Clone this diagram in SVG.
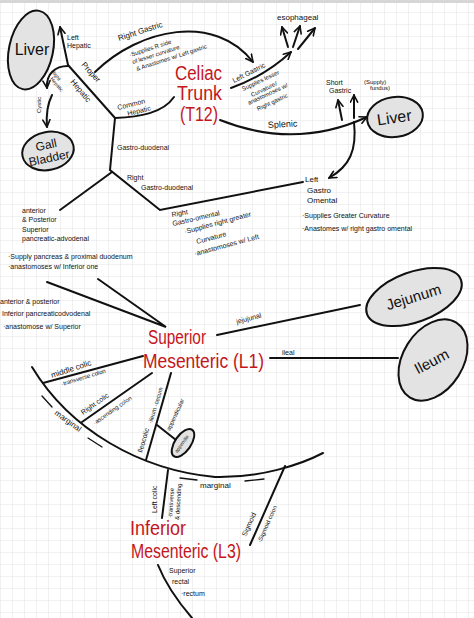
<svg xmlns="http://www.w3.org/2000/svg" width="474" height="618" viewBox="0 0 474 618">
<defs>
<pattern id="grid" width="12" height="12" patternUnits="userSpaceOnUse">
<path d="M12,0 L0,0 0,12" fill="none" stroke="#e4e4e4" stroke-width="1"/>
</pattern>
<marker id="ah" viewBox="0 0 10 10" refX="9" refY="5" markerWidth="9" markerHeight="9" markerUnits="userSpaceOnUse" orient="auto">
<path d="M1,1 L9,5 L1,9" fill="none" stroke="#111" stroke-width="1.8" stroke-linecap="round" stroke-linejoin="round"/>
</marker>
<style>
.ln{stroke:#111;stroke-width:2;fill:none;stroke-linecap:round}
.thin{stroke:#111;stroke-width:1.3;fill:none;stroke-linecap:round}
.org{fill:#e3e3e3;stroke:#111;stroke-width:2}
.t{font-family:"Liberation Sans",Arial,sans-serif;fill:#111}
.s6{font-size:6px}
.s7{font-size:7px}
.s8{font-size:8px}
.s9{font-size:9px}
.big{font-size:15px;text-anchor:middle}
.red{font-family:"Liberation Sans",Arial,sans-serif;fill:#c4161c;font-size:20px}
</style>
</defs>
<rect width="474" height="618" fill="#fff"/>
<rect width="474" height="618" fill="url(#grid)"/>
<rect width="474" height="3" fill="#d6d6d6"/>

<g id="connectors">
<path class="ln" d="M68,65 L60,27" marker-end="url(#ah)"/>
<path class="ln" d="M68,65 L115,118"/>
<path class="ln" d="M68,66 C55,66 46,74 47,88" marker-end="url(#ah)"/>
<path class="ln" d="M52,95 C47,105 46,115 47,127" marker-end="url(#ah)"/>
<path class="ln" d="M95,72 C140,28 215,13 253,62" marker-end="url(#ah)"/>
<path class="ln" d="M115,118 C140,117 163,113 174,97"/>
<path class="ln" d="M231,88 Q265,76 291,52" marker-end="url(#ah)"/>
<path class="ln" d="M288,47 L282,27" marker-end="url(#ah)"/>
<path class="ln" d="M293,47 L300,26" marker-end="url(#ah)"/>
<path class="ln" d="M298,49 L315,28" marker-end="url(#ah)"/>
<path class="ln" d="M220,120 Q295,150 367,117" marker-end="url(#ah)"/>
<path class="ln" d="M342,120 L338,100" marker-end="url(#ah)"/>
<path class="ln" d="M354,118 L354,95" marker-end="url(#ah)"/>
<path class="ln" d="M354,122 C357,150 350,166 329,178" marker-end="url(#ah)"/>
<path class="ln" d="M115,118 L110,170 L160,210 L303,182"/>
<path class="ln" d="M112,172 L60,210"/>
<path class="ln" d="M47,282 L166,327 L98,279"/>
<path class="ln" d="M217,335 L360,305"/>
<path class="ln" d="M270,358 L398,358"/>
<path class="ln" d="M43,383 L143,356"/>
<path class="ln" d="M32,367 C70,430 140,470 215,477 C260,478 300,465 323,453"/>
<path class="ln" d="M82,422 L152,373"/>
<path class="ln" d="M146,460 L171,373"/>
<path class="ln" d="M157,425 L176,440"/>
<path class="ln" d="M168,470 L162,518"/>
<path class="ln" d="M285,466 L250,545"/>
<path class="ln" d="M158,565 Q168,590 192,618"/>
<path class="thin" d="M42,396 L52,407 M88,438 L102,447 M180,478 L197,480 M245,481 L264,479"/>
</g>

<g id="liver-left">
<ellipse class="org" cx="31" cy="50" rx="22" ry="40" transform="rotate(12 31 50)"/>
<text class="t big" x="32" y="55" style="font-size:16px">Liver</text>
</g>
<g id="gall-bladder">
<ellipse class="org" cx="48" cy="151" rx="26" ry="19" transform="rotate(-12 48 151)"/>
<text class="t big" x="47" y="149" style="font-size:12px" transform="rotate(-12 47 149)">Gall</text>
<text class="t big" x="50" y="162" style="font-size:12px" transform="rotate(-12 50 162)">Bladder</text>
</g>
<g id="liver-right">
<ellipse class="org" cx="395" cy="117" rx="28" ry="20" transform="rotate(-8 395 117)"/>
<text class="t big" x="395" y="123" style="font-size:16px" transform="rotate(-8 395 123)">Liver</text>
</g>
<g id="jejunum">
<ellipse class="org" cx="414" cy="297" rx="50" ry="25" transform="rotate(-20 414 297)"/>
<text class="t big" x="415" y="302" style="font-size:15px" transform="rotate(-17 415 302)">Jejunum</text>
</g>
<g id="ileum">
<ellipse class="org" cx="433" cy="360" rx="30" ry="44" transform="rotate(32 433 360)"/>
<text class="t big" x="434" y="366" style="font-size:15px" transform="rotate(-28 434 366)">Ileum</text>
</g>
<g id="appendix">
<ellipse class="org" cx="183" cy="443" rx="16" ry="8" transform="rotate(-55 183 443)"/>
<text class="t" x="183" y="445" style="font-size:5px;text-anchor:middle" transform="rotate(-55 183 445)">appendix</text>
</g>

<g id="celiac-trunk">
<text class="red" x="175" y="80" textLength="47" lengthAdjust="spacingAndGlyphs">Celiac</text>
<text class="red" x="177" y="100" textLength="45" lengthAdjust="spacingAndGlyphs">Trunk</text>
<text class="red" x="180" y="121" textLength="38" lengthAdjust="spacingAndGlyphs">(T12)</text>
</g>
<g id="superior-mesenteric">
<text class="red" x="148" y="344" textLength="58" lengthAdjust="spacingAndGlyphs">Superior</text>
<text class="red" x="143" y="368" textLength="121" lengthAdjust="spacingAndGlyphs">Mesenteric (L1)</text>
</g>
<g id="inferior-mesenteric">
<text class="red" x="130" y="535" textLength="56" lengthAdjust="spacingAndGlyphs">Inferior</text>
<text class="red" x="131" y="558" textLength="110" lengthAdjust="spacingAndGlyphs">Mesenteric (L3)</text>
</g>

<g id="labels-hepatic">
<text class="t s7" x="67" y="40">Left</text>
<text class="t s7" x="67" y="48">Hepatic</text>
<text class="t s8" x="81" y="65" transform="rotate(48 81 65)">Proper</text>
<text class="t s8" x="70" y="82" transform="rotate(50 70 82)">Hepatic</text>
<text class="t" x="51" y="72" style="font-size:5px" transform="rotate(50 51 72)">Right</text>
<text class="t" x="50" y="79" style="font-size:5px" transform="rotate(50 50 79)">Hepatic</text>
<text class="t s6" x="41" y="113" transform="rotate(-90 41 113)">Cystic</text>
<text class="t s7" x="118" y="110" transform="rotate(-14 118 110)">Common</text>
<text class="t s7" x="128" y="116" transform="rotate(-14 128 116)">Hepatic</text>
</g>
<g id="labels-gastric">
<text class="t s8" x="119" y="41" transform="rotate(-18 119 41)">Right Gastric</text>
<text class="t s6" x="130" y="57" transform="rotate(-18 130 57)">·Supplies R side</text>
<text class="t s6" x="133" y="64" transform="rotate(-18 133 64)">of lesser curvature</text>
<text class="t s6" x="137" y="71" transform="rotate(-18 137 71)">&amp; Anastomes w/ Left gastric</text>
<text class="t s7" x="234" y="83" transform="rotate(-27 234 83)">Left Gastric</text>
<text class="t s6" x="243" y="91" transform="rotate(-25 243 91)">Supplies lesser</text>
<text class="t s6" x="252" y="97" transform="rotate(-25 252 97)">Curvature/</text>
<text class="t s6" x="249" y="105" transform="rotate(-25 249 105)">anastomoses w/</text>
<text class="t s6" x="258" y="111" transform="rotate(-25 258 111)">Right gastric</text>
<text class="t s8" x="277" y="20">esophageal</text>
<text class="t s9" x="268" y="128" transform="rotate(-3 268 128)">Splenic</text>
<text class="t s7" x="326" y="85">Short</text>
<text class="t s7" x="329" y="93">Gastric</text>
<text class="t s6" x="364" y="84">(Supply)</text>
<text class="t s6" x="370" y="90">fundus)</text>
<text class="t s8" x="305" y="182">Left</text>
<text class="t s8" x="307" y="193">Gastro</text>
<text class="t s8" x="307" y="203">Omental</text>
<text class="t s7" x="302" y="218">·Supplies Greater Curvature</text>
<text class="t s7" x="302" y="231">·Anastomes w/ right gastro omental</text>
</g>
<g id="labels-duodenal">
<text class="t s7" x="117" y="150">Gastro-duodenal</text>
<text class="t s7" x="127" y="180">Right</text>
<text class="t s7" x="141" y="190">Gastro-duodenal</text>
<text class="t s7" x="172" y="217" transform="rotate(-10 172 217)">Right</text>
<text class="t s7" x="173" y="226" transform="rotate(-13 173 226)">Gastro-omental</text>
<text class="t s7" x="185" y="234" transform="rotate(-15 185 234)">·Supplies right greater</text>
<text class="t s7" x="197" y="244" transform="rotate(-15 197 244)">Curvature</text>
<text class="t s7" x="195" y="256" transform="rotate(-15 195 256)">·anastomoses w/ Left</text>
<text class="t s7" x="22" y="213">anterior</text>
<text class="t s7" x="22" y="222">&amp; Posterior</text>
<text class="t s7" x="22" y="232">Superior</text>
<text class="t s7" x="22" y="241">pancreatic-advodenal</text>
<text class="t s7" x="8" y="259">·Supply pancreas &amp; proximal duodenum</text>
<text class="t s7" x="8" y="269">·anastomoses w/ Inferior one</text>
<text class="t s7" x="0" y="304">anterior &amp; posterior</text>
<text class="t s7" x="2" y="316">Inferior pancreaticodvodenal</text>
<text class="t s7" x="3" y="329">·anastomose w/ Superior</text>
</g>
<g id="labels-sma">
<text class="t s7" x="237" y="324" transform="rotate(-15 237 324)">jejujunal</text>
<text class="t s7" x="282" y="355">ileal</text>
<text class="t s8" x="52" y="378" transform="rotate(-18 52 378)">middle colic</text>
<text class="t s6" x="62" y="386" transform="rotate(-17 62 386)">·transverse colon</text>
<text class="t s7" x="83" y="415" transform="rotate(-35 83 415)">Right colic</text>
<text class="t s6" x="95" y="425" transform="rotate(-35 95 425)">·ascending colon</text>
<text class="t s7" x="142" y="453" transform="rotate(-73 142 453)">Ileocolic</text>
<text class="t s6" x="152" y="424" transform="rotate(-73 152 424)">·ileum ·cecum</text>
<text class="t s6" x="170" y="431" transform="rotate(-65 170 431)">appendicular</text>
<text class="t s8" x="54" y="414" transform="rotate(36 54 414)">marginal</text>
<text class="t s8" x="200" y="488">marginal</text>
</g>
<g id="labels-ima">
<text class="t s7" x="157" y="513" transform="rotate(-90 157 513)">Left colic</text>
<text class="t s6" x="172" y="518" transform="rotate(-86 172 518)">·transverse</text>
<text class="t s6" x="179" y="520" transform="rotate(-86 179 520)">&amp; descending</text>
<text class="t s7" x="246" y="537" transform="rotate(-66 246 537)">Sigmoid</text>
<text class="t s6" x="261" y="543" transform="rotate(-66 261 543)">·Sigmoid colon</text>
<text class="t s7" x="169" y="573">Superior</text>
<text class="t s7" x="172" y="584">rectal</text>
<text class="t s7" x="181" y="596">·rectum</text>
</g>
</svg>
